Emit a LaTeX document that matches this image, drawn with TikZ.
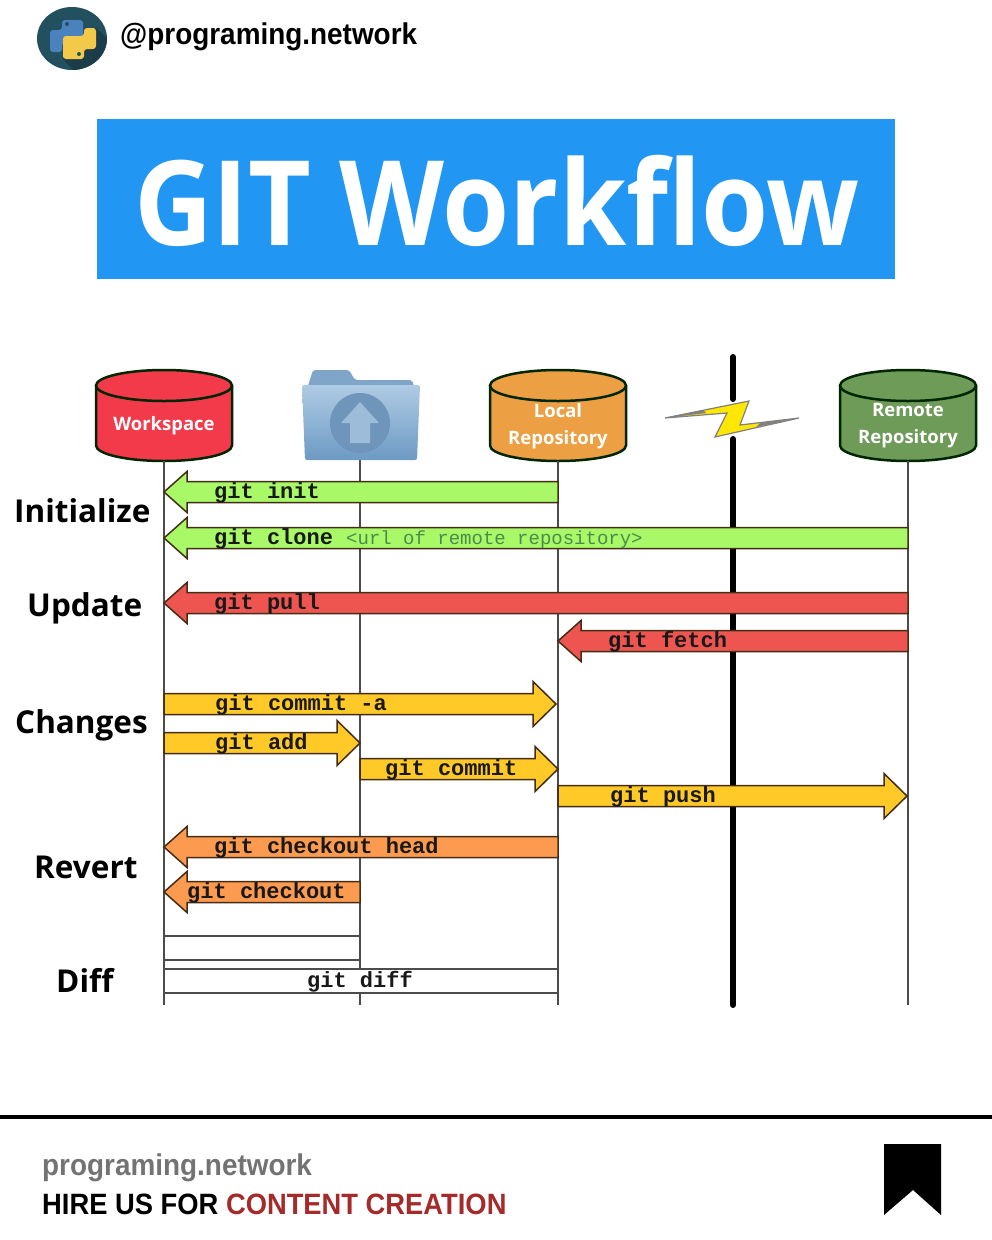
\documentclass[tikz,border=0pt]{standalone}
\usepackage{fontspec}
\setmainfont{Open Sans}
\newfontfamily\gitfont{Liberation Mono}
\newfontfamily\headfont[FakeStretch=0.93]{Liberation Sans}
\newfontfamily\titlefont[FakeStretch=0.92]{Open Sans}
\definecolor{bannerblue}{HTML}{2196F3}
\definecolor{initgreen}{HTML}{A8F868}
\definecolor{pullred}{HTML}{EE5450}
\definecolor{pushyellow}{HTML}{FFC928}
\definecolor{revertorange}{HTML}{FC9A50}
\definecolor{logoteal}{HTML}{23505F}
\definecolor{logoshade}{HTML}{1A3D49}
\definecolor{logoblue}{HTML}{4A82BD}
\definecolor{logoyellow}{HTML}{F3C94A}
\definecolor{footred}{HTML}{A52A2A}
\definecolor{workspacered}{HTML}{F23A4B}
\definecolor{localorange}{HTML}{ECA043}
\definecolor{remotegreen}{HTML}{6E9B58}
\definecolor{folderback}{HTML}{7FA5C8}
\definecolor{folderlight}{HTML}{AFCBE5}
\definecolor{folderdark}{HTML}{6D9AC3}
\definecolor{foldercircle}{HTML}{6F96BA}
\definecolor{folderarrow}{HTML}{9DBCD9}
\tikzset{
  repo/.style={minimum width=136pt, minimum height=70pt, align=center,
    text=white, font=\bfseries\fontsize{18.5}{27}\selectfont, inner sep=0pt},
  repobody/.style={line width=2.5pt, draw=black!85!green},
  lifeline/.style={line width=1.3pt, black!70},
  gitarrow/.style={line width=1.5pt, draw=black!65!brown},
  gitlabel/.style={anchor=base west, inner sep=0pt, font=\gitfont\bfseries\fontsize{22}{22}\selectfont, text=black!90},
  sidelabel/.style={anchor=base west, inner sep=0pt, font=\bfseries\fontsize{31.5}{32}\selectfont},
  footlabel/.style={anchor=base west, inner sep=0pt, font=\headfont\bfseries\fontsize{30}{30}\selectfont}
}
\begin{document}
\begin{tikzpicture}[x=1pt, y=-1pt]
    \useasboundingbox (0,0) rectangle (992,1240);
    % Header
    \fill[logoteal] (72,38.5) ellipse (35pt and 31.5pt);
    \begin{scope}
    \clip (72,38.5) ellipse (35pt and 31.5pt);
    \fill[logoshade] (96,28) -- (130,60) -- (100,100) -- (63,59) -- cycle;
    \end{scope}
    \fill[rounded corners=3pt, logoblue] (62,20) -- (83,20) -- (83,43) -- (62,43) -- (62,52) -- (50,52) -- (50,30) -- (62,30) -- cycle;
    \fill[rounded corners=3pt, logoyellow] (84,59) -- (63,59) -- (63,36) -- (84,36) -- (84,28) -- (96,28) -- (96,49) -- (84,49) -- cycle;
    \fill[logoteal] (67,24) circle (2pt);
    \fill[logoteal] (79,54) circle (2pt);
    \node[footlabel] (handle) at (120,44) {@programing.network};
    % Banner
    \fill[bannerblue] (97,119) rectangle (895,279);
    \node[anchor=base, inner sep=0pt, text=white, font=\titlefont\bfseries\fontsize{118}{118}\selectfont] (title) at (497,245) {GIT Workflow};
    % Repositories
    \foreach \repoName/\x/\repoColor/\repoText in {
        workspace/164/workspacered/Workspace,
        local/558/localorange/Local\\Repository,
        remote/908/remotegreen/Remote\\Repository}
    {
    \filldraw[repobody, fill=\repoColor] ({\x-68},385.5) -- ({\x-68},445.5) arc[start angle=180, end angle=360, x radius=68pt, y radius=15.5pt] -- ({\x+68},385.5);
    \filldraw[repobody, fill=\repoColor] (\x,385.5) ellipse (68pt and 15.5pt);
    \node[repo] (\repoName) at (\x,426) {\repoText};
    }
    % Lifelines
    \coordinate (indexTop) at (360,460);
    \coordinate (workspaceEnd) at (164,1005);
    \coordinate (indexEnd) at (360,1005);
    \coordinate (localEnd) at (558,1005);
    \coordinate (remoteEnd) at (908,1005);
    \draw[lifeline] (workspace.south) -- (workspaceEnd);
    \draw[lifeline] (indexTop) -- (indexEnd);
    \draw[lifeline] (local.south) -- (localEnd);
    \draw[lifeline] (remote.south) -- (remoteEnd);
    % Folder
    \fill[rounded corners=2pt, folderback] (306,392) -- (313,370) -- (349,370) -- (355,380) -- (412,380) -- (416,392) -- cycle;
    \shade[top color=folderlight, bottom color=folderdark, rounded corners=2pt] (302,385) -- (420,385) -- (417,460) -- (305,460) -- cycle;
    \fill[foldercircle] (360,423) circle (30pt);
    \fill[folderarrow] (360,402) -- (379,423) -- (370,423) -- (370,443) -- (350,443) -- (350,423) -- (341,423) -- cycle;
    % Network
    \coordinate (wireTop) at (733,357);
    \coordinate (wireEnd) at (733,1005);
    \coordinate (boltTop) at (733,399);
    \coordinate (boltEnd) at (733,439);
    \draw[line width=6pt, line cap=round] (wireTop) -- (boltTop);
    \draw[line width=6pt, line cap=round] (boltEnd) -- (wireEnd);
    \filldraw[fill=yellow!90!orange, draw=gray, line width=1.2pt] (665,418) -- (749,401) -- (740,425) -- (799,418) -- (715,437) -- (727,413) -- cycle;
    \fill[gray] (665,418) -- (703,410) -- (706,413) -- cycle;
    \fill[gray] (799,418) -- (760,423) -- (756,427) -- cycle;
    % Arrows
    \foreach \xa/\xb/\d/\y/\arrowcolor/\cmdName/\tx/\cmdText in {
        164/558/1/492/initgreen/init/214/git init,
        164/908/1/538/initgreen/clone/214/git clone,
        164/908/1/603/pullred/pull/214/git pull,
        558/908/1/641/pullred/fetch/608/git fetch,
        556/164/-1/704/pushyellow/commita/215/git commit -a,
        360/164/-1/743/pushyellow/add/215/git add,
        558/360/-1/769/pushyellow/commit/385/git commit,
        907/558/-1/796/pushyellow/push/610/git push,
        164/558/1/847/revertorange/checkouthead/214/git checkout head,
        164/360/1/892/revertorange/checkout/187/git checkout}
    {
    \filldraw[gitarrow, fill=\arrowcolor] (\xa,\y) -- ({\xa+\d*23},{\y-21.5+\d}) -- ({\xa+\d*23},{\y-10.5}) -- (\xb,{\y-10.5})
        -- (\xb,{\y+10.5}) -- ({\xa+\d*23},{\y+10.5}) -- ({\xa+\d*23},{\y+21.5-\d}) -- cycle;
    \node[gitlabel] (\cmdName) at (\tx,{\y+6}) {\cmdText};
    }
    \node[gitlabel, text=green!35!black!70!white, font=\gitfont\fontsize{19}{19}\selectfont] (cloneurl) at (346,544) {<url of remote repository>};
    % Diff
    \draw[lifeline] (164,936) -- (360,936);
    \draw[lifeline] (164,960) -- (360,960);
    \filldraw[lifeline, fill=white] (164,969) rectangle (558,993);
    \node[gitlabel, anchor=base] (diff) at (360,987) {git diff};
    % Sections
    \node[sidelabel] (initialize) at (14,522) {Initialize};
    \node[sidelabel] (update) at (27,616) {Update};
    \node[sidelabel] (changes) at (15,733) {Changes};
    \node[sidelabel] (revert) at (34,878) {Revert};
    \node[sidelabel] (diffname) at (56,992) {Diff};
    % Footer
    \coordinate (ruleStart) at (0,1117);
    \coordinate (ruleEnd) at (992,1117);
    \draw[line width=4pt] (ruleStart) -- (ruleEnd);
    \node[footlabel, text=black!55] (brand) at (42,1175) {programing.network};
    \node[footlabel, font=\headfont\bfseries\fontsize{29.4}{30}\selectfont] (hire) at (42,1214) {HIRE US FOR \textcolor{footred}{CONTENT CREATION}};
    \fill (884,1144) -- (941,1144) -- (941,1215) -- (913,1190) -- (884,1215) -- cycle;
\end{tikzpicture}
\end{document}
